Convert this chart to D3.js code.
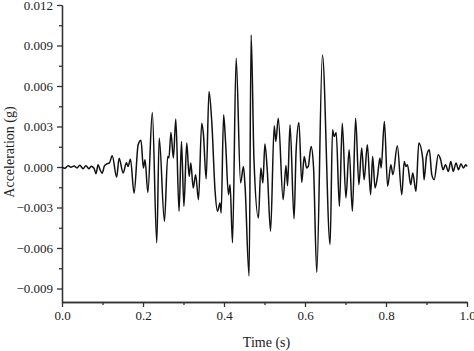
<!DOCTYPE html>
<html>
<head>
<meta charset="utf-8">
<script src="https://cdn.jsdelivr.net/npm/d3@7"></script>
<style>
  body { margin: 0; background: #fff; }
  svg { display: block; }
  .axis text { font-family: "Liberation Serif", "Times New Roman", serif; font-size: 13px; fill: #222; }
  .axis path, .axis line { stroke: #333; stroke-width: 1.3px; }
</style>
</head>
<body>
<div id="chart"></div>
<script>
// Time (s) at each turning point of the record
const times = [
  0.000, 0.007, 0.015, 0.022, 0.030, 0.037, 0.044, 0.052, 0.059, 0.067,
  0.072, 0.079, 0.084, 0.089, 0.094, 0.099, 0.105, 0.110, 0.117, 0.124,
  0.135, 0.141, 0.151, 0.159, 0.163, 0.169, 0.178, 0.188, 0.195, 0.201,
  0.205, 0.212, 0.223, 0.234, 0.240, 0.253, 0.261, 0.264, 0.269, 0.275,
  0.281, 0.289, 0.295, 0.301, 0.308, 0.314, 0.318, 0.324, 0.330, 0.337,
  0.345, 0.349, 0.356, 0.363, 0.370, 0.378, 0.384, 0.390, 0.393, 0.399,
  0.404, 0.411, 0.415, 0.421, 0.430, 0.441, 0.448, 0.452, 0.462, 0.467,
  0.474, 0.485, 0.491, 0.496, 0.501, 0.507, 0.515, 0.524, 0.528, 0.534,
  0.546, 0.553, 0.557, 0.563, 0.573, 0.578, 0.585, 0.592, 0.598, 0.604,
  0.608, 0.615, 0.621, 0.629, 0.643, 0.662, 0.668, 0.672, 0.677, 0.685,
  0.692, 0.701, 0.709, 0.717, 0.725, 0.733, 0.740, 0.746, 0.754, 0.762,
  0.767, 0.773, 0.779, 0.785, 0.788, 0.796, 0.804, 0.812, 0.817, 0.828,
  0.839, 0.845, 0.849, 0.853, 0.861, 0.866, 0.874, 0.881, 0.891, 0.894,
  0.900, 0.907, 0.913, 0.919, 0.929, 0.935, 0.941, 0.947, 0.954, 0.960,
  0.966, 0.973, 0.979, 0.985, 0.991, 0.997, 1.000
];

// Acceleration (g)
const accel = [
  -0.00001, -0.00009, 0.00010, -0.00001, 0.00007, -0.00007, 0.00013, -0.00013, 0.00010, -0.00013,
  0.00006, -0.00009, -0.00050, 0.00017, -0.00020, -0.00046, 0.00010, 0.00022, 0.00030, 0.00084,
  -0.00075, 0.00065, -0.00044, 0.00032, 0.00004, 0.00058, -0.00194, 0.00165, 0.00198, -0.00007,
  0.00054, -0.00188, 0.00403, -0.00562, 0.00214, -0.00402, 0.00078, 0.00067, 0.00256, 0.00067,
  0.00355, -0.00328, 0.00189, -0.00291, 0.00177, -0.00069, 0.00030, -0.00155, -0.00057, -0.00242,
  0.00325, 0.00251, -0.00089, 0.00559, 0.00325, -0.00180, -0.00328, -0.00266, -0.00340, 0.00387,
  0.00177, -0.00205, -0.00131, -0.00562, 0.00806, -0.00118, 0.00004, -0.00143, -0.00808, 0.00978,
  0.00054, -0.00377, -0.00007, -0.00118, 0.00170, -0.00033, -0.00476, 0.00305, 0.00189, 0.00362,
  -0.00242, 0.00012, -0.00138, 0.00313, -0.00384, 0.00115, 0.00330, -0.00114, 0.00078, -0.00007,
  0.00004, 0.00152, 0.00004, -0.00781, 0.00830, -0.00574, 0.00276, 0.00226, 0.00256, -0.00291,
  0.00325, -0.00229, 0.00128, -0.00328, 0.00362, -0.00131, 0.00140, -0.00094, 0.00165, -0.00205,
  0.00078, -0.00155, -0.00069, 0.00067, -0.00007, 0.00337, -0.00143, 0.00017, -0.00057, 0.00157,
  -0.00205, 0.00041, 0.00004, 0.00017, -0.00131, -0.00044, -0.00180, 0.00177, 0.00054, -0.00094,
  0.00078, 0.00128, -0.00057, -0.00094, 0.00091, 0.00054, -0.00020, 0.00017, -0.00033, 0.00041,
  -0.00033, 0.00030, -0.00020, 0.00024, -0.00007, 0.00017, 0.00004
];

const xTicks = [0, 0.2, 0.4, 0.6, 0.8, 1.0];
const yTicks = [-0.009, -0.006, -0.003, 0, 0.003, 0.006, 0.009, 0.012];

const width = 474;
const height = 351;
const margin = { top: 5, right: 7, bottom: 49, left: 62 };

const data = times.map((t, i) => ({ t: t, a: accel[i] }));

const xScale = d3.scaleLinear()
    .domain([0, 1])
    .range([margin.left, width - margin.right]);

const yScale = d3.scaleLinear()
    .domain([-0.01, 0.012])
    .range([height - margin.bottom, margin.top]);

const svg = d3.select("#chart")
    .append("svg")
    .attr("width", width)
    .attr("height", height);

// minor ticks sit halfway between the labelled ones
const xMinor = d3.range(0.1, 1, 0.2);
const yMinor = yTicks.map(v => v + 0.0015).filter(v => v < 0.012);

svg.append("g")
    .attr("class", "axis")
    .attr("transform", `translate(0, ${height - margin.bottom})`)
    .call(d3.axisBottom(xScale).tickValues(xMinor).tickSize(3).tickFormat("").tickSizeOuter(0));

svg.append("g")
    .attr("class", "axis")
    .attr("transform", `translate(${margin.left}, 0)`)
    .call(d3.axisLeft(yScale).tickValues(yMinor).tickSize(3).tickFormat("").tickSizeOuter(0));

// Add X axis
svg.append("g")
    .attr("class", "axis")
    .attr("transform", `translate(0, ${height - margin.bottom})`)
    .call(d3.axisBottom(xScale).tickValues(xTicks).tickFormat(d3.format(".1f")).tickSize(5).tickPadding(4).tickSizeOuter(0));

// Add Y axis
svg.append("g")
    .attr("class", "axis")
    .attr("transform", `translate(${margin.left}, 0)`)
    .call(d3.axisLeft(yScale).tickValues(yTicks).tickFormat(d3.format(".3f")).tickSize(5).tickPadding(4).tickSizeOuter(0));

// Add line
const line = d3.line()
    .x(d => xScale(d.t))
    .y(d => yScale(d.a))
    .curve(d3.curveMonotoneX);

svg.append("path")
    .datum(data)
    .attr("fill", "none")
    .attr("stroke", "#111")
    .attr("stroke-width", 1.5)
    .attr("stroke-linejoin", "round")
    .attr("d", line);

// Axis titles
svg.append("text")
    .attr("x", (margin.left + width - margin.right) / 2 + 2)
    .attr("y", 347)
    .attr("text-anchor", "middle")
    .style("font-family", "Liberation Serif, serif")
    .style("font-size", "14px")
    .style("fill", "#222")
    .text("Time (s)");

svg.append("text")
    .attr("transform", `translate(14, 152) rotate(-90)`)
    .attr("text-anchor", "middle")
    .style("font-family", "Liberation Serif, serif")
    .style("font-size", "14px")
    .style("fill", "#222")
    .text("Acceleration (g)");
</script>
</body>
</html>
